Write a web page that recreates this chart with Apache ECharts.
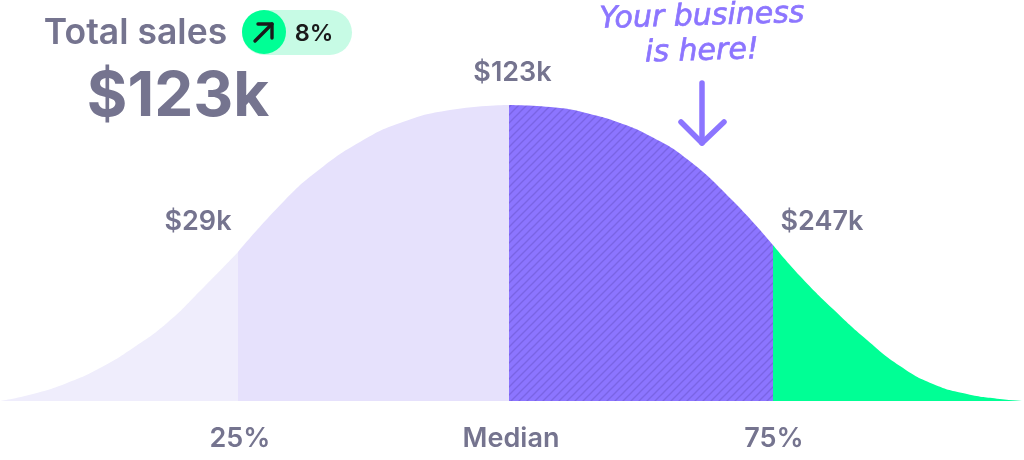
<!DOCTYPE html>
<html>
<head>
<meta charset="utf-8">
<script src="https://cdn.jsdelivr.net/npm/echarts@6/dist/echarts.min.js"></script>
<style>html,body{margin:0;padding:0;background:#fff}#c{width:1024px;height:460px}</style>
</head>
<body>
<div id="c"></div>
<script>
// Curve: [position, height]
const lowestQuarter = [[0,0],[33,7],[67,18],[100,33],[133,53],[167,78],[200,110],[238,149]];
const secondQuarter = [[238,149],[285,201],[320,232],[360,259],[400,278],[450,291],[509,296]];
const thirdQuarter  = [[509,296],[560,293],[590,287],[620,278],[650,265],[687,242],[732,201],[773,156]];
const topQuarter    = [[773,156],[800,125],[833,92],[867,61],[900,35],[933,17],[967,7],[1000,2],[1024,0]];
const tickPositions = [240,511,774];
const tickLabels    = ['25%','Median','75%'];
const valueLabels   = ['$29k','$123k','$247k'];
const titleText = 'Total sales', totalText = '$123k', changeText = '8%';
const noteLines = ['Your business','is here!'];

const GREY = '#75748F', PURPLE = '#8C75FF', GREEN = '#00FF95';
const FONT = 'Inter';

// diagonal hatch tile
const tile = document.createElement('canvas');
const P = 8;
tile.width = P; tile.height = P;
const g = tile.getContext('2d');
g.fillStyle = PURPLE; g.fillRect(0,0,P,P);
g.strokeStyle = '#7A64E4'; g.lineWidth = 1.3;
[[-P,P,P,-P],[0,P,P,0],[0,2*P,2*P,0]].forEach(l=>{g.beginPath();g.moveTo(l[0],l[1]);g.lineTo(l[2],l[3]);g.stroke();});

function seg(data, color){
  return {type:'line',data,smooth:0.5,symbol:'none',silent:true,
    lineStyle:{width:0},areaStyle:{color,opacity:1}};
}
const txt = (text,x,y,size,weight,fill,align) => ({type:'text',x,y,z:20,
  style:{text,fontFamily:FONT,fontSize:size,fontWeight:weight,fill,textAlign:align||'center',textVerticalAlign:'middle'}});

const chart = echarts.init(document.getElementById('c'),null,{renderer:'canvas'});
chart.setOption({
  animation:false,
  backgroundColor:'#fff',
  grid:{left:0,right:0,top:105,bottom:59},
  xAxis:{type:'value',min:0,max:1024,splitLine:{show:false},axisLine:{show:false},axisTick:{show:false},
    axisLabel:{customValues:tickPositions,margin:24,color:GREY,fontFamily:FONT,fontSize:27,fontWeight:600,
      formatter:v=>tickLabels[tickPositions.indexOf(v)]}},
  yAxis:{type:'value',min:0,max:296,show:false},
  series:[seg(lowestQuarter,'#EFEDFC'),seg(secondQuarter,'#E6E1FC'),seg(thirdQuarter,{image:tile,repeat:'repeat'}),seg(topQuarter,GREEN)],
  graphic:[
    txt(titleText,135.5,33,35.5,600,GREY),
    txt(totalText,178,97,62,700,GREY),
    {type:'rect',z:10,shape:{x:242,y:10,width:110,height:45,r:22.5},style:{fill:'#C7FBE5'}},
    {type:'circle',z:11,shape:{cx:264,cy:32,r:22},style:{fill:GREEN}},
    {type:'polyline',z:12,shape:{points:[[255,41],[272,24]]},style:{stroke:'#1A1A1A',lineWidth:3.4,lineCap:'round',fill:null}},
    {type:'polyline',z:12,shape:{points:[[258,24],[272,24],[272,38]]},style:{stroke:'#1A1A1A',lineWidth:3.4,lineCap:'round',lineJoin:'round',fill:null}},
    txt(changeText,314,34,23.5,600,'#1A1A1A'),
    txt(valueLabels[0],198,222,27,600,GREY),
    txt(valueLabels[1],512.5,73,27,600,GREY),
    txt(valueLabels[2],822,222,27,600,GREY),
    {type:'text',z:20,x:702,y:17,rotation:0.03,style:{text:noteLines[0],fontFamily:'DejaVu Sans',fontStyle:'italic',fontSize:30,fill:PURPLE,stroke:PURPLE,lineWidth:0.7,textAlign:'center',textVerticalAlign:'middle'}},
    {type:'text',z:20,x:702,y:52,rotation:0.03,style:{text:noteLines[1],fontFamily:'DejaVu Sans',fontStyle:'italic',fontSize:30,fill:PURPLE,stroke:PURPLE,lineWidth:0.7,textAlign:'center',textVerticalAlign:'middle'}},
    {type:'polyline',z:12,shape:{points:[[702,83],[702,143]]},style:{stroke:PURPLE,lineWidth:5.5,lineCap:'round',fill:null}},
    {type:'polyline',z:12,shape:{points:[[681,122],[702,143],[724,122]]},style:{stroke:PURPLE,lineWidth:5.5,lineCap:'round',lineJoin:'round',fill:null}}
  ]
});
</script>
</body>
</html>
